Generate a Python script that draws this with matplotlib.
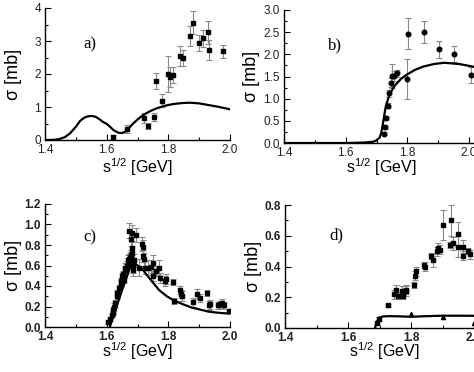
import numpy as np
import matplotlib
matplotlib.use("Agg")
import matplotlib.pyplot as plt
from matplotlib.ticker import MultipleLocator

plt.rcParams["mathtext.fontset"] = "custom"
plt.rcParams["mathtext.rm"] = "Liberation Sans"
plt.rcParams["mathtext.it"] = "Liberation Sans"

# ---------------- data ----------------
# panel a
a_x = [1.62, 1.667, 1.72, 1.733, 1.754, 1.76, 1.78, 1.80, 1.805, 1.814, 1.838, 1.848,
       1.869, 1.88, 1.90, 1.913, 1.93, 1.932, 1.978]
a_y = [0.10, 0.32, 0.66, 0.42, 0.71, 1.79, 1.19, 2.00, 1.90, 1.97, 2.55, 2.48,
       3.16, 3.55, 2.94, 3.08, 3.26, 2.72, 2.69]
a_e = [0.06, 0.12, 0.15, 0.10, 0.12, 0.25, 0.20, 0.55, 0.30, 0.25, 0.30, 0.25,
       0.30, 0.35, 0.25, 0.25, 0.35, 0.30, 0.20]
a_cx = [1.40, 1.43, 1.447, 1.465, 1.481, 1.50, 1.514, 1.528, 1.54, 1.552, 1.565, 1.578,
        1.589, 1.60, 1.611, 1.622, 1.638, 1.65, 1.66, 1.672, 1.686, 1.70, 1.719, 1.74,
        1.762, 1.79, 1.816, 1.845, 1.87, 1.90, 1.924, 1.96, 2.0]
a_cy = [0.0, 0.005, 0.03, 0.09, 0.20, 0.40, 0.58, 0.68, 0.72, 0.73, 0.70, 0.62,
        0.54, 0.49, 0.40, 0.30, 0.22, 0.21, 0.25, 0.36, 0.50, 0.62, 0.76, 0.87,
        0.96, 1.04, 1.09, 1.12, 1.13, 1.11, 1.07, 1.01, 0.93]

# panel b
b_x = [1.725, 1.728, 1.730, 1.736, 1.742, 1.746, 1.749, 1.757, 1.765, 1.798, 1.801,
       1.854, 1.904, 1.951, 2.007]
b_y = [0.21, 0.35, 0.57, 0.84, 1.12, 1.36, 1.51, 1.51, 1.57, 1.45, 2.46,
       2.51, 2.11, 2.00, 1.53]
b_e = [0.04, 0.04, 0.05, 0.06, 0.08, 0.10, 0.28, 0.12, 0.08, 0.45, 0.35,
       0.25, 0.20, 0.18, 0.18]
b_cx = [1.40, 1.60, 1.66, 1.69, 1.70, 1.71, 1.715, 1.72, 1.725, 1.73, 1.74, 1.75, 1.76,
        1.78, 1.80, 1.825, 1.85, 1.885, 1.92, 1.97, 2.03]
b_cy = [0.0, 0.0, 0.01, 0.03, 0.06, 0.12, 0.22, 0.40, 0.62, 0.82, 1.05, 1.19, 1.30,
        1.45, 1.55, 1.65, 1.72, 1.78, 1.81, 1.78, 1.70]

# panel c
c_x = [1.605, 1.611, 1.616, 1.620, 1.622, 1.625, 1.627, 1.632, 1.635, 1.640, 1.645,
       1.647, 1.650, 1.652, 1.655, 1.658, 1.660, 1.663, 1.666, 1.668, 1.670, 1.673,
       1.676, 1.678, 1.683, 1.674, 1.683, 1.694, 1.678, 1.681, 1.680, 1.684, 1.686,
       1.690, 1.706, 1.713, 1.719, 1.717, 1.720, 1.724, 1.735, 1.743, 1.749, 1.751,
       1.760, 1.771, 1.773, 1.789, 1.792, 1.816, 1.819, 1.838, 1.841, 1.843, 1.879,
       1.894, 1.903, 1.926, 1.932, 1.935, 1.962, 1.968, 1.973, 1.979, 1.998]
c_y = [0.05, 0.08, 0.12, 0.14, 0.17, 0.20, 0.23, 0.30, 0.33, 0.38, 0.43,
       0.45, 0.50, 0.52, 0.46, 0.56, 0.58, 0.57, 0.60, 0.65, 0.62, 0.66,
       0.68, 0.70, 0.72, 0.94, 0.92, 0.90, 0.86, 0.77, 0.69, 0.60, 0.56,
       0.65, 0.58, 0.81, 0.78, 0.69, 0.66, 0.58, 0.58, 0.59, 0.62, 0.50,
       0.55, 0.58, 0.48, 0.45, 0.47, 0.44, 0.25, 0.36, 0.32, 0.30, 0.24,
       0.32, 0.28, 0.33, 0.21, 0.22, 0.21, 0.22, 0.23, 0.21, 0.16]
c_e = [0.02, 0.02, 0.02, 0.02, 0.03, 0.03, 0.03, 0.03, 0.03, 0.03, 0.03,
       0.03, 0.03, 0.03, 0.03, 0.04, 0.04, 0.04, 0.04, 0.05, 0.05, 0.05,
       0.05, 0.05, 0.06, 0.07, 0.08, 0.07, 0.07, 0.06, 0.06, 0.07, 0.06,
       0.06, 0.08, 0.07, 0.07, 0.06, 0.06, 0.06, 0.07, 0.06, 0.08, 0.05,
       0.05, 0.07, 0.05, 0.05, 0.05, 0.03, 0.03, 0.04, 0.04, 0.05, 0.04,
       0.05, 0.04, 0.03, 0.04, 0.04, 0.03, 0.03, 0.04, 0.03, 0.02]
c_cx = [1.61, 1.63, 1.65, 1.67, 1.681, 1.69, 1.70, 1.71, 1.719, 1.735, 1.751, 1.77,
        1.795, 1.82, 1.849, 1.875, 1.903, 1.93, 1.957, 2.0]
c_cy = [0.0, 0.18, 0.36, 0.53, 0.63, 0.625, 0.60, 0.58, 0.55, 0.49, 0.43, 0.36,
        0.30, 0.255, 0.22, 0.19, 0.17, 0.15, 0.14, 0.13]

# panel d
d_x = [1.691, 1.697, 1.727, 1.746, 1.751, 1.758, 1.772, 1.776, 1.783, 1.785, 1.808, 1.814,
       1.817, 1.840, 1.846, 1.865, 1.870, 1.881, 1.886, 1.891, 1.902, 1.923, 1.928,
       1.934, 1.948, 1.950, 1.964, 1.966, 1.980, 1.987]
d_y = [0.03, 0.06, 0.149, 0.22, 0.25, 0.21, 0.24, 0.21, 0.24, 0.25, 0.28, 0.34,
       0.37, 0.41, 0.40, 0.47, 0.44, 0.50, 0.52, 0.51, 0.67, 0.54, 0.70,
       0.55, 0.61, 0.53, 0.53, 0.47, 0.50, 0.48]
d_e = [0.01, 0.01, 0.01, 0.03, 0.03, 0.02, 0.03, 0.02, 0.03, 0.03, 0.02, 0.03,
       0.03, 0.02, 0.03, 0.02, 0.04, 0.03, 0.03, 0.03, 0.10, 0.02, 0.10,
       0.04, 0.08, 0.07, 0.04, 0.03, 0.02, 0.03]
d_tx = [1.80, 1.90, 2.00]
d_ty = [0.09, 0.07, 0.035]
d_cx = [1.686, 1.69, 1.695, 1.70, 1.71, 1.73, 1.76, 1.80, 1.85, 1.90, 1.95, 2.03]
d_cy = [0.0, 0.03, 0.055, 0.068, 0.075, 0.077, 0.076, 0.073, 0.077, 0.080, 0.080, 0.079]

W, H = 474, 372
fig = plt.figure(figsize=(W / 100, H / 100), dpi=100)
fig.patch.set_facecolor("white")


def axes_px(left, right, top, bottom):
    return fig.add_axes([left / W, 1 - bottom / H, (right - left) / W, (bottom - top) / H])


def style(ax, xlim, ylim, ymaj, ymin, bold, letter, lpos, ylab_px, xlab_y_px, left_px, width_px, top_px, h_px):
    ax.set_xlim(*xlim)
    ax.set_ylim(*ylim)
    for s in ["top", "right"]:
        ax.spines[s].set_visible(False)
    for s in ["left", "bottom"]:
        ax.spines[s].set_linewidth(1.0)
    ax.xaxis.set_major_locator(MultipleLocator(0.2))
    ax.xaxis.set_minor_locator(MultipleLocator(0.1))
    ax.yaxis.set_major_locator(MultipleLocator(ymaj))
    ax.yaxis.set_minor_locator(MultipleLocator(ymin))
    ax.tick_params(which="both", direction="in", width=0.8)
    ax.tick_params(which="major", length=4, labelsize=8.5, pad=3)
    ax.tick_params(which="minor", length=2.5)
    ax.xaxis.set_major_formatter(matplotlib.ticker.FormatStrFormatter("%.1f"))
    ax.yaxis.set_major_formatter(matplotlib.ticker.FormatStrFormatter("%.1f" if ymaj < 1 else "%d"))
    for lab in ax.get_xticklabels() + ax.get_yticklabels():
        lab.set_fontfamily("Liberation Sans")
        lab.set_fontweight("bold" if bold else "normal")
        lab.set_color("#222222")
    ax.set_ylabel("σ [mb]", fontsize=13, family="Liberation Sans")
    ax.yaxis.set_label_coords((ylab_px - left_px) / width_px, 0.5)
    ax.yaxis.label.set_va("center")
    ax.set_xlabel(r"s$^{1/2}$ [GeV]", fontsize=11.5, family="Liberation Sans")
    ax.xaxis.set_label_coords(0.5, 1 - (xlab_y_px - top_px) / h_px)
    ax.xaxis.label.set_va("center")
    ax.text(lpos[0], lpos[1], letter, fontsize=12, family="Liberation Serif", ha="center", va="center")


ekw = dict(fmt="none", ecolor="#8a8a8a", elinewidth=0.8, capsize=2.5, capthick=0.8)

# panel a
ax = axes_px(45, 230, 8, 140)
ax.errorbar(a_x, a_y, yerr=a_e, **ekw)
ax.plot(a_x, a_y, "s", color="black", ms=3.3)
ax.plot(a_cx, a_cy, color="black", lw=1.6)
style(ax, (1.4, 2.0), (0, 4), 1, 0.5, False, "a)", (1.546, 2.9), 13, 167, 45, 185, 8, 132)

# panel b
wb = 185 * 0.632 / 0.6
ax = axes_px(284, 284 + wb, 10, 143)
ax.errorbar(b_x, b_y, yerr=b_e, **ekw)
ax.plot(b_x, b_y, "o", color="black", ms=3.3)
ax.plot(b_cx, b_cy, color="black", lw=1.6)
style(ax, (1.4, 2.032), (0, 3.0), 0.5, 0.25, False, "b)", (1.565, 2.2), 252, 167, 284, wb, 10, 133)

# panel c
ax = axes_px(45, 230, 204, 327)
ax.errorbar(c_x, c_y, yerr=c_e, **ekw)
ax.plot(c_x, c_y, "s", color="black", ms=3.0)
ax.plot(c_cx, c_cy, color="black", lw=1.6)
style(ax, (1.4, 2.0), (0, 1.2), 0.2, 0.1, True, "c)", (1.546, 0.87), 13, 351, 45, 185, 204, 123)

# panel d
wd = 189 * 0.632 / 0.6
ax = axes_px(285, 285 + wd, 205, 328)
ax.errorbar(d_x, d_y, yerr=d_e, **ekw)
ax.plot(d_x, d_y, "s", color="black", ms=3.0)
ax.plot(d_tx, d_ty, "^", color="black", ms=3.0)
ax.plot(d_cx, d_cy, color="black", lw=1.6)
style(ax, (1.4, 2.032), (0, 0.8), 0.2, 0.1, True, "d)", (1.562, 0.6), 253, 351, 285, wd, 205, 123)

fig.savefig("out.png", dpi=100, facecolor="white")
